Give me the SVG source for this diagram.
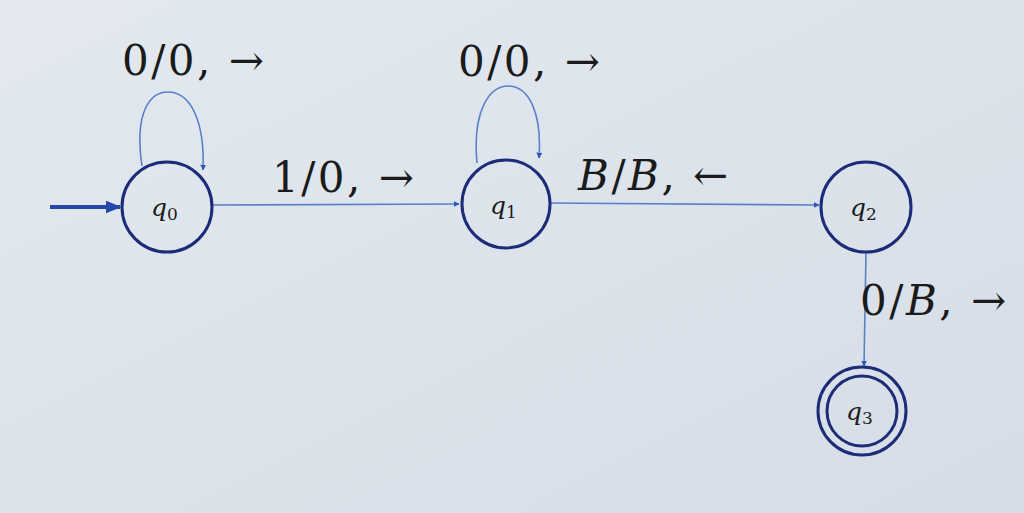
<svg xmlns="http://www.w3.org/2000/svg" width="1024" height="513" viewBox="0 0 1024 513">
<defs>
<linearGradient id="bg" x1="0" y1="0" x2="1" y2="1">
<stop offset="0" stop-color="#e4e9f0"/>
<stop offset="1" stop-color="#d6dde6"/>
</linearGradient>
<marker id="ah" viewBox="0 0 10 10" refX="9" refY="5" markerWidth="6" markerHeight="6" orient="auto" markerUnits="userSpaceOnUse">
<path d="M0,0 L10,5 L0,10 z" fill="#2f56b8"/>
</marker>
<marker id="ahbig" viewBox="0 0 10 10" refX="9" refY="5" markerWidth="16" markerHeight="16" orient="auto" markerUnits="userSpaceOnUse">
<path d="M0,1 L10,5 L0,9 z" fill="#2447a8"/>
</marker>
</defs>
<style>
.node{fill:none;stroke:#1c2c78;stroke-width:3}
.edge{fill:none;stroke:#5b80c8;stroke-width:1.6}
.lbl{font-family:"DejaVu Serif","Liberation Serif",serif;font-size:42px;letter-spacing:2.5px;fill:#1b1b1b}
.st{font-family:"DejaVu Serif","Liberation Serif",serif;font-style:italic;font-size:25px;fill:#1b1b1b}
.sub{font-style:normal;font-size:17px}
</style>
<rect width="1024" height="513" fill="url(#bg)"/>
<g id="connectors">
<line x1="50" y1="207" x2="120" y2="207" stroke="#2447a8" stroke-width="4" marker-end="url(#ahbig)"/>
<path class="edge" d="M142,166 C134,112 150,92 168,92 C190,92 205,120 203,170" marker-end="url(#ah)"/>
<path class="edge" d="M477,163 C472,110 490,86 508,86 C530,86 542,115 539,158" marker-end="url(#ah)"/>
<line class="edge" x1="213" y1="205" x2="459" y2="204" marker-end="url(#ah)"/>
<line class="edge" x1="550" y1="203" x2="819" y2="205" marker-end="url(#ah)"/>
<line class="edge" x1="866" y1="252" x2="864" y2="366" marker-end="url(#ah)"/>
</g>
<g id="q0">
<circle class="node" cx="167" cy="207" r="45"/>
<text class="st" x="151" y="216">q<tspan class="sub" dy="4">0</tspan></text>
</g>
<g id="q1">
<circle class="node" cx="506" cy="204" r="44"/>
<text class="st" x="490" y="214">q<tspan class="sub" dy="4">1</tspan></text>
</g>
<g id="q2">
<circle class="node" cx="866" cy="207" r="45"/>
<text class="st" x="850" y="216">q<tspan class="sub" dy="4">2</tspan></text>
</g>
<g id="q3">
<circle class="node" cx="862" cy="411" r="44"/>
<circle class="node" cx="862" cy="411" r="35"/>
<text class="st" x="846" y="420">q<tspan class="sub" dy="4">3</tspan></text>
</g>
<g id="labels">
<text class="lbl" x="122" y="75">0/0, →</text>
<text class="lbl" x="458" y="76">0/0, →</text>
<text class="lbl" x="272" y="192">1/0, →</text>
<text class="lbl" x="578" y="190"><tspan font-style="italic">B</tspan>/<tspan font-style="italic">B</tspan>, ←</text>
<text class="lbl" x="860" y="315">0/<tspan font-style="italic">B</tspan>, →</text>
</g>
</svg>
